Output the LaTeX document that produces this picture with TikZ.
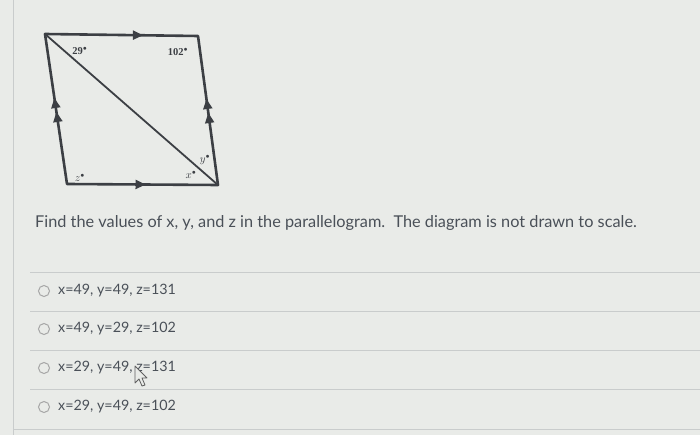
\documentclass[tikz,border=0pt]{standalone}
\usepackage{fontspec}
\setmainfont{Lato}
\newfontfamily\labfont{Liberation Serif}
\usetikzlibrary{calc}
\definecolor{bg}{HTML}{E9EBE8}
\definecolor{ink}{HTML}{3C3F44}
\definecolor{rule}{HTML}{C9CCCC}
\definecolor{txt}{HTML}{4A5058}
% chevron tip on segment #1 -> #2 at fraction #3
\newcommand{\chevtip}[3]{%
  \coordinate (ctp) at ($(#1)!#3!(#2)$);
  \coordinate (cbs) at ($(ctp)!10pt!(#1)$);
  \fill[ink] (ctp) -- ($(cbs)!4.8pt!90:(ctp)$) -- ($(cbs)!4.8pt!-90:(ctp)$) -- cycle;}
\tikzset{
  side/.style={draw=ink, line width=2.6pt, line cap=round, line join=round},
  diag/.style={draw=ink, line width=1.8pt},
  anglab/.style={font=\labfont\bfseries\fontsize{10.5}{12}\selectfont, text=ink, inner sep=0pt},
  choice/.style={font=\fontsize{14.3}{16}\selectfont, text=txt, anchor=west, inner sep=0pt},
  radio/.style={draw=gray!70, line width=1pt, circle, minimum size=11pt, inner sep=0pt},
  hrule/.style={draw=rule, line width=1pt},
}
\begin{document}
\begin{tikzpicture}[x=1pt,y=-1pt]
\fill[bg] (0,0) rectangle (700,435);
\useasboundingbox (0,0) rectangle (700,435);
% page border lines
\draw[rule, line width=1pt] (13,0) -- (13,435);
\draw[hrule] (30,272) -- (700,272);
\draw[hrule] (30,311) -- (700,311);
\draw[hrule] (30,350) -- (700,350);
\draw[hrule] (30,389) -- (700,389);
\draw[hrule] (13,429) -- (700,429);
% parallelogram
\coordinate (TL) at (45,34);
\coordinate (TR) at (198,36);
\coordinate (BR) at (218,185);
\coordinate (BL) at (67,184);
\draw[diag] (TL) -- (BR);
\draw[side] (TL) -- (TR) -- (BR) -- (BL) -- cycle;
\chevtip{TL}{TR}{0.64}
\chevtip{BL}{BR}{0.52}
\chevtip{BL}{TL}{0.48}
\chevtip{BL}{TL}{0.573}
\chevtip{BR}{TR}{0.483}
\chevtip{BR}{TR}{0.577}
% angle labels
\node[anglab] (a29) at (80,51) {29$^{\bullet}$};
\node[anglab] (a102) at (178,52) {102$^{\bullet}$};
\node[anglab] (az) at (80,178) {$z^{\bullet}$};
\node[anglab] (ax) at (191,175) {$x^{\bullet}$};
\node[anglab] (ay) at (205,160) {$y^{\bullet}$};
% question
\node[font=\fontsize{16.3}{18}\selectfont, text=txt, anchor=west, inner sep=0pt] (q) at (35,223)
  {Find the values of x, y, and z in the parallelogram.\ \ The diagram is not drawn to scale.};
% choices
\node[radio] (r1) at (44,291) {};
\node[choice] (c1) at (58,291) {x=49, y=49, z=131};
\node[radio] (r2) at (44,329) {};
\node[choice] (c2) at (58,329) {x=49, y=29, z=102};
\node[radio] (r3) at (44,368) {};
\node[choice] (c3) at (58,368) {x=29, y=49, z=131};
\node[radio] (r4) at (44,407) {};
\node[choice] (c4) at (58,407) {x=29, y=49, z=102};
% mouse cursor
\draw[draw=gray!75!black, fill=bg, line width=0.8pt, line join=round]
  (135,366) -- (135,383) -- (139,379) -- (142,386) -- (145,385) -- (142,378) -- (147,378) -- cycle;
\end{tikzpicture}
\end{document}
